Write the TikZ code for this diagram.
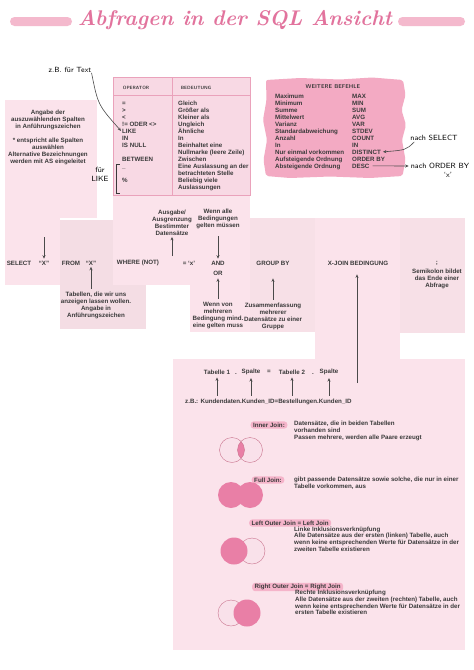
\documentclass[tikz,border=0pt]{standalone}
\usepackage{graphicx}
\usepackage{fontspec}
\newfontfamily\arial{Liberation Sans}
\usetikzlibrary{arrows.meta}
\definecolor{txtc}{HTML}{3A3A3A}
\definecolor{arrc}{HTML}{4A4A4A}
\definecolor{boxa}{HTML}{FBE3EB}
\definecolor{boxb}{HTML}{F4DDE4}
\definecolor{boxc}{HTML}{F7E0E7}
\definecolor{tabf}{HTML}{F8D9E4}
\definecolor{tabd}{HTML}{EAA2BB}
\definecolor{blobc}{HTML}{F3AAC3}
\definecolor{barc}{HTML}{F4B9CD}
\definecolor{titlec}{HTML}{E2739D}
\definecolor{pillc}{HTML}{F5B4CA}
\definecolor{venn}{HTML}{E97FA6}
\definecolor{vennl}{HTML}{F9E1EA}
\definecolor{vennd}{HTML}{C9738D}
\tikzset{
 t/.style={font={\arial\fontsize{6.2}{7}\selectfont\bfseries}, text=txtc, inner sep=0pt, align=center},
 tj/.style={font={\arial\fontsize{6.2}{6.6}\selectfont\bfseries}, text=txtc, inner sep=0pt, align=left, anchor=west},
 row/.style={font={\arial\fontsize{6.2}{7}\selectfont\bfseries}, text=txtc, inner sep=0pt, anchor=base west},
 hand/.style={font={\sffamily\fontsize{7.5}{8}\selectfont}, text=black, inner sep=0pt},
 capt/.style={font={\sffamily\fontsize{4.6}{5}\selectfont\bfseries}, text=txtc, inner sep=0pt},
 arr/.style={draw=arrc, line width=0.6pt, -{Stealth[length=3.4pt,width=3pt]}},
 pillst/.style={t, fill=pillc, rounded corners=3pt, inner xsep=2.5pt, inner ysep=1.3pt},
}
\begin{document}
\begin{tikzpicture}[x=1pt,y=-1pt]
\useasboundingbox (0,0) rectangle (474,670);
\fill[white] (0,0) rectangle (474,670);
% title
\fill[barc, rounded corners=4.5pt] (10,17) rectangle (72,26);
\fill[barc, rounded corners=4.5pt] (398,17) rectangle (465,26);
\node[text=titlec, inner sep=0pt] (title) at (235,20) {\resizebox{314pt}{!}{\fontsize{24}{24}\selectfont\bfseries\itshape Abfragen in der SQL Ansicht}};
% background boxes
\fill[boxa] (5,100) rectangle (97,218);
\fill[boxa] (5,218) rectangle (60,285);
\fill[boxb] (60,220) rectangle (146,329);
\fill[boxa] (113,195) rectangle (250,285);
\fill[boxa] (190,285) rectangle (250,332);
\fill[boxc] (250,218) rectangle (315,332);
\fill[boxa] (315,218) rectangle (400,360);
\fill[boxc] (400,218) rectangle (465,333);
\fill[boxa] (173,359) rectangle (465,650);
% operator table
\filldraw[fill=tabf, draw=tabd, line width=0.6pt] (113,77) rectangle (250,195);
\draw[tabd, line width=0.6pt] (113,95) -- (250,95);
\draw[tabd, line width=0.6pt] (172,77) -- (172,195);
\node[capt] (oph) at (136,88) {OPERATOR};
\node[capt] (meh) at (196,88) {BEDEUTUNG};
\foreach \s/\yy in {{=}/103, {>}/110, {<}/117, {!= ODER <>}/124, {LIKE}/131, {IN}/138, {IS NULL}/145, {BETWEEN}/159, {\_}/166, {\%}/180}
  \node[row] (op\yy) at (122,\yy+2) {\s};
\foreach \s/\yy in {{Gleich}/103, {Größer als}/110, {Kleiner als}/117, {Ungleich}/124, {Ähnliche}/131, {In}/138, {Beinhaltet eine}/145, {Nullmarke (leere Zeile)}/152, {Zwischen}/159, {Eine Auslassung an der}/166, {betrachteten Stelle}/173, {Beliebig viele}/180, {Auslassungen}/187}
  \node[row] (me\yy) at (178,\yy+2) {\s};
% annotations near table
\node[hand] (zbt) at (70,70) {z.B. für Text};
\draw[arr] (zbt.south east) .. controls (98,105) .. ([xshift=-1pt]op131.west);
\node[hand] (fuer) at (100,170) {für};
\node[hand] (like) at (100,179) {LIKE};
\draw[txtc, line width=0.5pt] (119.5,164) -- (116.5,164) -- (116.5,193) -- (119.5,193);
% weitere befehle (brush-stroke blob)
\fill[blobc, rounded corners=2pt] (266,80) -- (300,78) -- (340,79.5) -- (372,77.5) -- (403,80) -- (405.5,95) -- (401.5,110) -- (406,125) -- (402,140) -- (405.5,160) -- (402.5,176) -- (370,178) -- (330,176.5) -- (290,178) -- (266,176) -- (263.5,160) -- (267,140) -- (263,120) -- (266.5,100) -- cycle;
\node[capt, font={\sffamily\fontsize{5.6}{6}\selectfont\bfseries}] (wbh) at (333,87) {WEITERE BEFEHLE};
\foreach \a/\b/\yy in {Maximum/MAX/96, Minimum/MIN/103, Summe/SUM/110, Mittelwert/AVG/117, Varianz/VAR/124, Standardabweichung/STDEV/131, Anzahl/COUNT/138, In/IN/145, {Nur einmal vorkommen}/DISTINCT/152, {Aufsteigende Ordnung}/{ORDER BY}/159, {Absteigende Ordnung}/DESC/166}
  {\node[row] (wa\yy) at (275,\yy+2) {\a};
   \node[row] (wb\yy) at (352,\yy+2) {\b};}
\node[hand] (nsel) at (434,138) {nach SELECT};
\draw[arr] ([xshift=4pt,yshift=-1pt]nsel.south west) .. controls (406,150) .. ([xshift=2pt]wb152.east);
\node[hand] (nord) at (440,166) {nach ORDER BY};
\node[hand] (xq) at (448,175) {‘x’};
\draw[arr] ([xshift=3pt]wb166.east) -- ([xshift=-2pt]nord.west);
% left column text
\node[t] (angabe) at (48,120) {Angabe der\\auszuwählenden Spalten\\in Anführungszeichen};
\node[t] (stern) at (48,144) {* entspricht alle Spalten\\auswählen};
\node[t] (alt) at (48,158.5) {Alternative Bezeichnungen\\werden mit AS eingeleitet};
% main row
\node[t] (select) at (19,263) {SELECT};
\node[t] (x1) at (44,263) {“X”};
\node[t] (from) at (71,263) {FROM};
\node[t] (x2) at (91,263) {“X”};
\node[t] (where) at (138,263) {WHERE (NOT)};
\node[t] (eqx) at (189,263) {= ‘x’};
\node[t] (and) at (218,263) {AND};
\node[t] (or) at (218,273) {OR};
\node[t] (group) at (273,263) {GROUP BY};
\node[t] (xjoin) at (358,263) {X-JOIN BEDINGUNG};
\node[t] (semi) at (437,263) {;};
\node[t] (semitxt) at (437,279) {Semikolon bildet\\das Ende einer\\Abfrage};
\node[t] (tabellen) at (96,305.5) {Tabellen, die wir uns\\anzeigen lassen wollen.\\Angabe in\\Anführungszeichen};
\node[t] (ausgabe) at (172,223) {Ausgabe/\\Ausgrenzung\\Bestimmter\\Datensätze};
\node[t] (wennalle) at (218,219) {Wenn alle\\Bedingungen\\gelten müssen};
\node[t] (wennvon) at (218,315.5) {Wenn von\\mehreren\\Bedingung mind.\\eine gelten muss};
\node[t] (zus) at (273,316.5) {Zusammenfassung\\mehrerer\\Datensätze zu einer\\Gruppe};
\coordinate (xa) at (44,237);
\coordinate (wa) at (172,256);
\coordinate (xj) at (357,383);
\draw[arr] (xa) -- ([yshift=2pt]x1.north);
\draw[arr] ([yshift=3pt]x2 |- tabellen.north) -- ([yshift=-1.5pt]x2.south);
\draw[arr] (wa) -- ([yshift=-1pt]ausgabe.south);
\draw[arr] ([yshift=-7pt]wennalle.south) -- ([yshift=2pt]and.north);
\draw[arr] ([yshift=3pt]wennvon.north) -- ([yshift=-3pt]or.south);
\draw[arr] ([yshift=3pt]zus.north) -- ([yshift=-13pt]group.south);
\draw[arr] (xj) -- ([yshift=-9pt]xjoin.south -| xj);
% join section
\node[t] (t1) at (217,372) {Tabelle 1};
\node[t] (d1) at (236,374) {.};
\node[t] (sp1) at (251,372) {Spalte};
\node[t] (eq) at (269,372) {=};
\node[t] (t2) at (292,372) {Tabelle 2};
\node[t] (d2) at (313,374) {.};
\node[t] (sp2) at (329,372) {Spalte};
\node[t, anchor=west] (zb) at (185,402) {z.B.: Kundendaten.Kunden\_ID=Bestellungen.Kunden\_ID};
\foreach \n in {t1,sp1,t2,sp2}
  \draw[arr] ([yshift=3pt]\n |- zb.north) -- ([yshift=-3pt]\n.south);
% inner join
\node[pillst] (ij) at (269,425) {Inner Join:};
\node[tj] (ijt) at (294,431) {Datensätze, die in beiden Tabellen\\vorhanden sind\\Passen mehrere, werden alle Paare erzeugt};
\fill[vennl] (232,450) circle (12.5);
\fill[vennl] (250,450) circle (12.5);
\begin{scope}
 \clip (232,450) circle (12.5);
 \fill[venn] (250,450) circle (12.5);
\end{scope}
\draw[vennd, line width=0.4pt] (232,450) circle (12.5);
\draw[vennd, line width=0.4pt] (250,450) circle (12.5);
% full join
\node[pillst] (fj) at (268,480) {Full Join:};
\node[tj] (fjt) at (294,483) {gibt passende Datensätze sowie solche, die nur in einer\\Tabelle vorkommen, aus};
\fill[venn] (231,495) circle (13);
\fill[venn] (250,495) circle (13);
% left join
\node[pillst, anchor=west] (lj) at (249,523) {Left Outer Join = Left Join};
\node[tj] (ljt) at (294,539) {Linke Inklusionsverknüpfung\\Alle Datensätze aus der ersten (linken) Tabelle, auch\\wenn keine entsprechenden Werte für Datensätze in der\\zweiten Tabelle existieren};
\filldraw[fill=vennl, draw=vennd, line width=0.4pt] (252,551) circle (13);
\fill[venn] (234,551) circle (13.5);
% right join
\node[pillst, anchor=west] (rj) at (252,587) {Right Outer Join = Right Join};
\node[tj] (rjt) at (295,602.5) {Rechte Inklusionsverknüpfung\\Alle Datensätze aus der zweiten (rechten) Tabelle, auch\\wenn keine entsprechenden Werte für Datensätze in der\\ersten Tabelle existieren};
\filldraw[fill=vennl, draw=vennd, line width=0.4pt] (231,613) circle (13);
\fill[venn] (247,613) circle (13.5);
\end{tikzpicture}
\end{document}
